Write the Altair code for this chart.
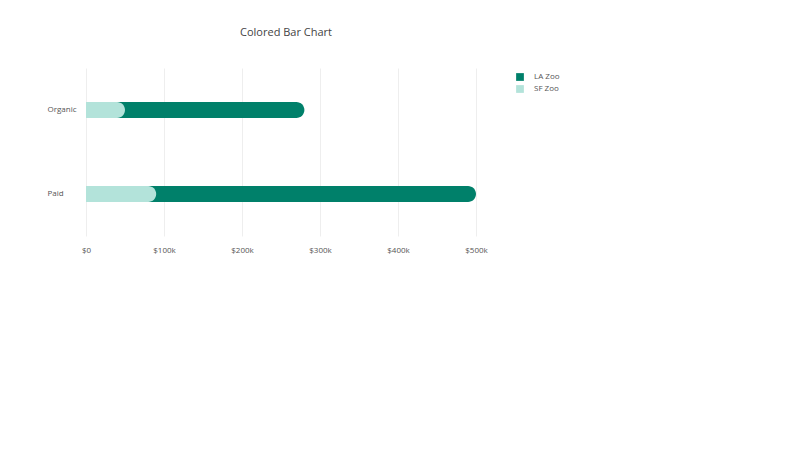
import altair as alt
import pandas as pd

categories = ["Organic", "Paid"]
la_zoo = [280000, 500000]
sf_zoo = [50000, 90000]
series = ["LA Zoo", "SF Zoo"]
colors = ["#00806a", "#b3e3da"]

rows = []
for name, vals in zip(series, [la_zoo, sf_zoo]):
    for i, (c, v) in enumerate(zip(categories, vals)):
        rows.append({"channel": c, "zoo": name, "value": v, "ord": series.index(name)})
df = pd.DataFrame(rows)

FONT = "Open Sans"

chart = alt.Chart(df).mark_bar(size=16, cornerRadiusEnd=8).encode(
    y=alt.Y("channel:N", sort=categories, title=None,
            axis=alt.Axis(ticks=False, domain=False, labelPadding=39, labelAlign="left",
                          labelFontSize=8,
                          labelColor="#555", labelFont=FONT, grid=False)),
    x=alt.X("value:Q", stack=None, title=None,
            scale=alt.Scale(domain=[0, 500000], nice=False),
            axis=alt.Axis(values=[0, 100000, 200000, 300000, 400000, 500000],
                          labelExpr="datum.value == 0 ? '$0' : '$' + datum.value/1000 + 'k'",
                          ticks=False, domain=False, labelPadding=10, labelFontSize=8,
                          labelFlush=False,
                          labelColor="#555", labelFont=FONT, grid=True,
                          gridColor="#eeeeee", gridWidth=1)),
    color=alt.Color("zoo:N", scale=alt.Scale(domain=series, range=colors), title=None,
                    legend=alt.Legend(orient="none", legendX=430, legendY=5,
                                      symbolType="square", symbolSize=60,
                                      symbolStrokeWidth=0, labelFontSize=8,
                                      labelColor="#555", labelFont=FONT, rowPadding=4,
                                      labelOffset=10)),
    order=alt.Order("ord:Q"),
).properties(
    width=390,
    height=168,
    title=alt.TitleParams("Colored Bar Chart", fontSize=11, font=FONT, fontWeight="normal",
                          color="#444", anchor="middle", offset=30, dx=5),
    autosize=alt.AutoSizeParams(type="none"),
    padding={"left": 78, "top": 60, "right": 300, "bottom": 190},
).configure_view(stroke=None)

chart.save("out.html", embed_options={"renderer": "svg", "actions": False})
